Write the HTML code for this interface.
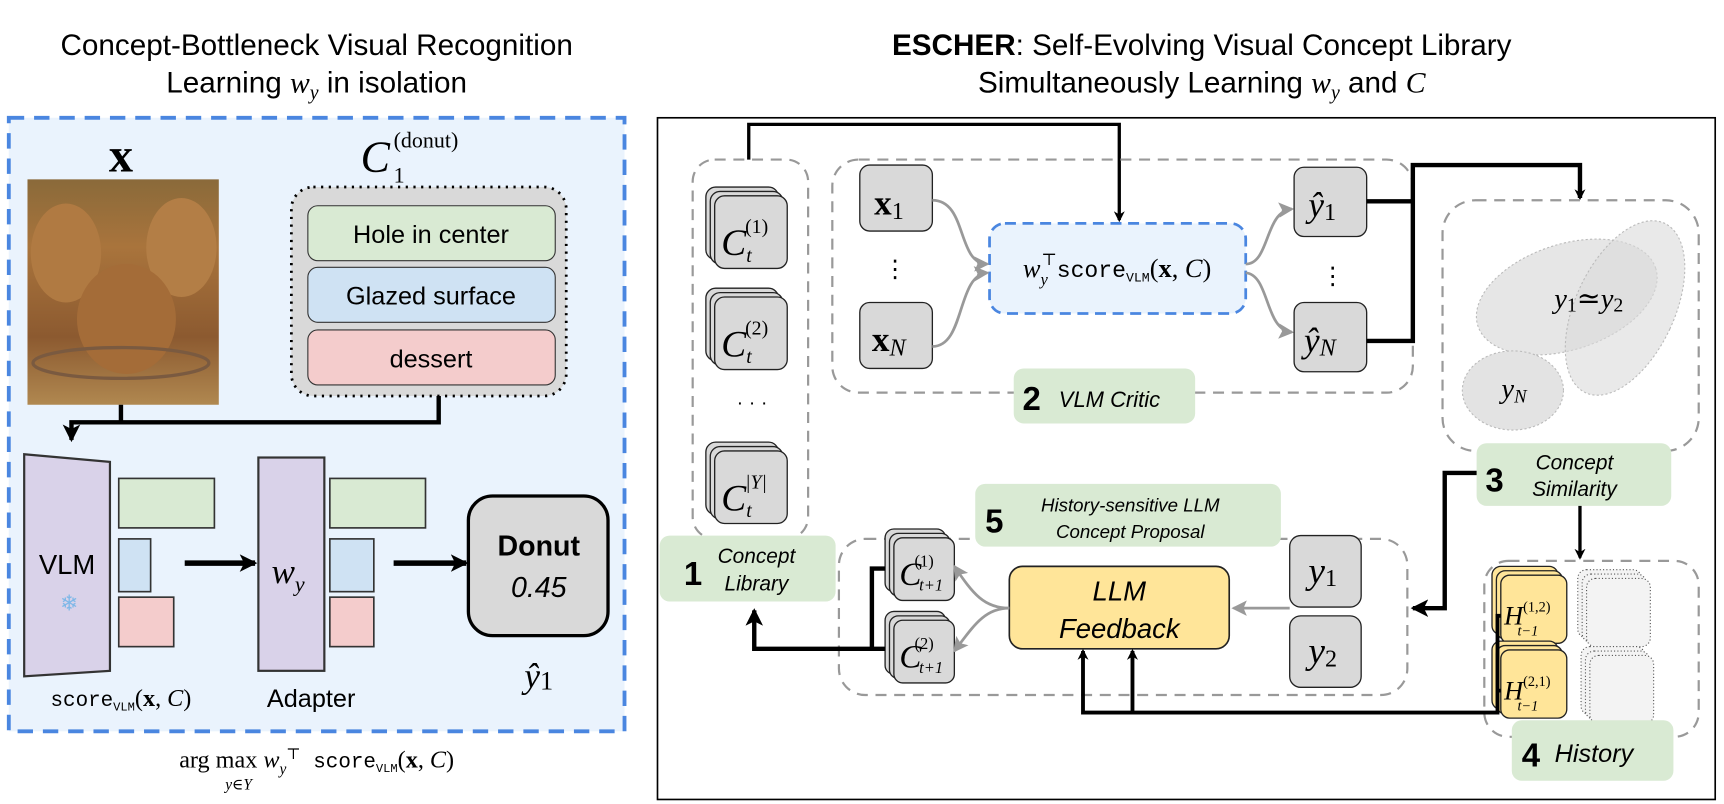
<!DOCTYPE html>
<html><head><meta charset="utf-8"><style>
html,body{margin:0;padding:0;background:#fff;}
svg{display:block;}
text{font-family:"Liberation Sans","DejaVu Sans",sans-serif;}
.m{font-family:"Liberation Serif","DejaVu Serif",serif;font-style:italic;}
.r{font-family:"Liberation Serif","DejaVu Serif",serif;}
.tt{font-family:"Liberation Mono","DejaVu Sans Mono",monospace;}
</style></head><body>
<svg width="1724" height="804" viewBox="0 0 1568 731" xmlns="http://www.w3.org/2000/svg">
<defs>
<marker id="ab" markerWidth="10" markerHeight="10" refX="8" refY="5" orient="auto" markerUnits="userSpaceOnUse" viewBox="0 0 10 10"><path d="M0,0 L10,5 L0,10 L3,5z" fill="#000"/></marker>
<marker id="abs" markerWidth="16" markerHeight="16" refX="14" refY="8" orient="auto" markerUnits="userSpaceOnUse" viewBox="0 0 16 16"><path d="M0,0 L16,8 L0,16 L4,8z" fill="#000"/></marker>
<marker id="ag" markerWidth="14" markerHeight="14" refX="12" refY="7" orient="auto" markerUnits="userSpaceOnUse" viewBox="0 0 14 14"><path d="M0,0 L14,7 L0,14 L3,7z" fill="#999"/></marker>
<linearGradient id="ph" x1="0" y1="0" x2="0" y2="1"><stop offset="0" stop-color="#8a6a3a"/><stop offset="0.3" stop-color="#a9743c"/><stop offset="0.7" stop-color="#8c5a30"/><stop offset="1" stop-color="#b08850"/></linearGradient>
</defs>

<!-- titles -->
<text x="288" y="50" font-size="27" text-anchor="middle">Concept-Bottleneck Visual Recognition</text>
<text x="288" y="84" font-size="27" text-anchor="middle">Learning <tspan class="m">w</tspan><tspan class="m" font-size="18" dy="6">y</tspan><tspan dy="-6"> in isolation</tspan></text>
<text x="1093" y="50" font-size="27" text-anchor="middle"><tspan font-weight="bold">ESCHER</tspan>: Self-Evolving Visual Concept Library</text>
<text x="1093" y="84" font-size="27" text-anchor="middle">Simultaneously Learning <tspan class="m">w</tspan><tspan class="m" font-size="18" dy="6">y</tspan><tspan dy="-6"> and </tspan><tspan class="m">C</tspan></text>

<!-- LEFT PANEL -->
<rect x="8" y="107" width="560" height="558" fill="#eaf3fd" stroke="#4a86e0" stroke-width="3.5" stroke-dasharray="14,9"/>
<text x="110" y="156" font-size="44" font-weight="bold" class="r" text-anchor="middle">x</text>
<rect x="25" y="163" width="174" height="205" fill="url(#ph)"/>
<ellipse cx="60" cy="230" rx="32" ry="45" fill="#b07a42"/>
<ellipse cx="165" cy="225" rx="32" ry="45" fill="#b37e46"/>
<ellipse cx="115" cy="290" rx="45" ry="50" fill="#a46c38"/>
<ellipse cx="110" cy="330" rx="80" ry="14" fill="none" stroke="#7a5a40" stroke-width="3"/>
<text x="328" y="156" font-size="40" class="m">C</text>
<text x="358" y="166" font-size="20" class="r">1</text>
<text x="358" y="134" font-size="20" class="r">(donut)</text>
<rect x="265" y="170" width="250" height="190" rx="20" fill="#d9d9d9" stroke="#000" stroke-width="2.5" stroke-dasharray="2,5"/>
<rect x="280" y="187" width="225" height="50" rx="9" fill="#d9ead3" stroke="#333" stroke-width="1"/>
<rect x="280" y="243" width="225" height="50" rx="9" fill="#cfe2f3" stroke="#333" stroke-width="1"/>
<rect x="280" y="300" width="225" height="50" rx="9" fill="#f4cccc" stroke="#333" stroke-width="1"/>
<text x="392" y="221" font-size="23" text-anchor="middle">Hole in center</text>
<text x="392" y="277" font-size="23" text-anchor="middle">Glazed surface</text>
<text x="392" y="334" font-size="23" text-anchor="middle">dessert</text>
<path d="M110,368 V384 M399,360 V384 H65 V400" fill="none" stroke="#000" stroke-width="4" marker-end="url(#abs)"/>
<polygon points="22,413 100,420 100,610 22,615" fill="#d9d2e9" stroke="#333" stroke-width="2"/>
<text x="61" y="522" font-size="25" text-anchor="middle">VLM</text>
<text x="63" y="555" font-size="20" text-anchor="middle" fill="#7fb8e8">❄</text>
<rect x="108" y="435" width="87" height="45" fill="#d9ead3" stroke="#333" stroke-width="1.5"/>
<rect x="108" y="490" width="29" height="48" fill="#cfe2f3" stroke="#333" stroke-width="1.5"/>
<rect x="108" y="543" width="50" height="45" fill="#f4cccc" stroke="#333" stroke-width="1.5"/>
<line x1="168" y1="512" x2="232" y2="512" stroke="#000" stroke-width="5" marker-end="url(#abs)"/>
<rect x="235" y="416" width="60" height="194" fill="#d9d2e9" stroke="#333" stroke-width="2"/>
<text x="262" y="530" font-size="32" class="m" text-anchor="middle">w<tspan font-size="20" dy="8">y</tspan></text>
<rect x="300" y="435" width="87" height="45" fill="#d9ead3" stroke="#333" stroke-width="1.5"/>
<rect x="300" y="490" width="40" height="48" fill="#cfe2f3" stroke="#333" stroke-width="1.5"/>
<rect x="300" y="543" width="40" height="45" fill="#f4cccc" stroke="#333" stroke-width="1.5"/>
<line x1="358" y1="512" x2="424" y2="512" stroke="#000" stroke-width="5" marker-end="url(#abs)"/>
<rect x="426" y="451" width="127" height="127" rx="22" fill="#d9d9d9" stroke="#000" stroke-width="3"/>
<text x="490" y="505" font-size="26" font-weight="bold" text-anchor="middle">Donut</text>
<text x="490" y="543" font-size="26" font-style="italic" text-anchor="middle">0.45</text>
<text x="490" y="625" font-size="32" class="m" text-anchor="middle">ŷ<tspan class="r" font-style="normal" font-size="24" dy="2">1</tspan></text>
<text x="110" y="642" font-size="19" text-anchor="middle"><tspan class="tt">score</tspan><tspan class="tt" font-size="11" dy="4">VLM</tspan><tspan class="r" font-size="22" dy="-4">(</tspan><tspan class="r" font-weight="bold" font-size="22">x</tspan><tspan class="r" font-size="22">, </tspan><tspan class="m" font-size="22">C</tspan><tspan class="r" font-size="22">)</tspan></text>
<text x="283" y="643" font-size="23" text-anchor="middle">Adapter</text>
<text x="288" y="698" font-size="22" text-anchor="middle"><tspan class="r">arg max </tspan><tspan class="m">w</tspan><tspan class="m" font-size="14" dy="6">y</tspan><tspan class="r" font-size="14" dy="-14">⊤</tspan><tspan class="tt" font-size="19" dy="8"> score</tspan><tspan class="tt" font-size="11" dy="4">VLM</tspan><tspan class="r" dy="-4">(</tspan><tspan class="r" font-weight="bold">x</tspan><tspan class="r">, </tspan><tspan class="m">C</tspan><tspan class="r">)</tspan></text>
<text x="217" y="718" font-size="14" class="m" text-anchor="middle">y∈Y</text>

<!-- RIGHT PANEL -->
<rect x="598" y="107" width="962" height="620" fill="#fff" stroke="#000" stroke-width="1.5"/>

<!-- section 1 -->
<rect x="630" y="145" width="105" height="345" rx="20" fill="none" stroke="#999" stroke-width="2" stroke-dasharray="10,7"/>
<g stroke="#222" stroke-width="1.2" fill="#d9d9d9">
<rect x="642" y="170" width="66" height="66" rx="9"/><rect x="646" y="174" width="66" height="66" rx="9"/><rect x="650" y="178" width="66" height="66" rx="9"/>
<rect x="642" y="262" width="66" height="66" rx="9"/><rect x="646" y="266" width="66" height="66" rx="9"/><rect x="650" y="270" width="66" height="66" rx="9"/>
<rect x="642" y="402" width="66" height="66" rx="9"/><rect x="646" y="406" width="66" height="66" rx="9"/><rect x="650" y="410" width="66" height="66" rx="9"/>
</g>
<text x="656" y="232" font-size="34" class="m">C<tspan font-size="18" dy="6">t</tspan><tspan class="r" font-style="normal" font-size="18" dx="-6" dy="-26">(1)</tspan></text>
<text x="656" y="324" font-size="34" class="m">C<tspan font-size="18" dy="6">t</tspan><tspan class="r" font-style="normal" font-size="18" dx="-6" dy="-26">(2)</tspan></text>
<text x="656" y="464" font-size="34" class="m">C<tspan font-size="18" dy="6">t</tspan><tspan font-size="18" dx="-6" dy="-26">|Y|</tspan></text>
<text x="684" y="372" font-size="18" text-anchor="middle">· · ·</text>
<rect x="600" y="487" width="160" height="60" rx="9" fill="#d9ead3"/>
<text x="622" y="532" font-size="30" font-weight="bold">1</text>
<text x="688" y="512" font-size="19" font-style="italic" text-anchor="middle">Concept</text>
<text x="688" y="537" font-size="19" font-style="italic" text-anchor="middle">Library</text>

<path d="M681,145 V113 H1018 V200" fill="none" stroke="#000" stroke-width="3" marker-end="url(#ab)"/>

<!-- section 2 -->
<rect x="757" y="145" width="528" height="212" rx="24" fill="none" stroke="#999" stroke-width="2" stroke-dasharray="10,7"/>
<rect x="782" y="150" width="66" height="60" rx="9" fill="#d9d9d9" stroke="#222" stroke-width="1.2"/>
<rect x="782" y="275" width="66" height="60" rx="9" fill="#d9d9d9" stroke="#222" stroke-width="1.2"/>
<text x="795" y="195" font-size="32" class="r" font-weight="bold">x<tspan font-weight="normal" font-size="22" dy="4">1</tspan></text>
<text x="793" y="319" font-size="32" class="r" font-weight="bold">x<tspan class="m" font-weight="normal" font-size="22" dy="4">N</tspan></text>
<text x="814" y="252" font-size="22" text-anchor="middle">⋮</text>
<rect x="900" y="203" width="233" height="82" rx="14" fill="#eaf3fd" stroke="#4a86e0" stroke-width="2.5" stroke-dasharray="10,6"/>
<text x="1016" y="252" font-size="24" text-anchor="middle"><tspan class="m">w</tspan><tspan class="m" font-size="15" dy="7">y</tspan><tspan class="r" font-size="15" dy="-18" dx="-6">⊤</tspan><tspan class="tt" font-size="21" dy="11">score</tspan><tspan class="tt" font-size="12" dy="4">VLM</tspan><tspan class="r" dy="-4">(</tspan><tspan class="r" font-weight="bold">x</tspan><tspan class="r">, </tspan><tspan class="m">C</tspan><tspan class="r">)</tspan></text>
<g fill="none" stroke="#999" stroke-width="2.5">
<path d="M848,182 C880,182 870,240 898,240" marker-end="url(#ag)"/>
<path d="M848,315 C878,315 870,250 898,248" marker-end="url(#ag)"/>
<path d="M1133,240 C1155,240 1150,192 1175,190" marker-end="url(#ag)"/>
<path d="M1133,248 C1155,250 1150,300 1175,302" marker-end="url(#ag)"/>
</g>
<rect x="1177" y="152" width="66" height="63" rx="9" fill="#d9d9d9" stroke="#222" stroke-width="1.2"/>
<rect x="1177" y="275" width="66" height="63" rx="9" fill="#d9d9d9" stroke="#222" stroke-width="1.2"/>
<text x="1190" y="197" font-size="32" class="m">ŷ<tspan class="r" font-style="normal" font-size="22" dy="3">1</tspan></text>
<text x="1186" y="320" font-size="32" class="m">ŷ<tspan font-size="22" dy="3">N</tspan></text>
<text x="1212" y="258" font-size="22" text-anchor="middle">⋮</text>
<rect x="922" y="335" width="165" height="50" rx="9" fill="#d9ead3"/>
<text x="930" y="373" font-size="30" font-weight="bold">2</text>
<text x="963" y="370" font-size="20" font-style="italic">VLM Critic</text>

<path d="M1243,183 H1285 M1243,310 H1285 V150 H1437 V180" fill="none" stroke="#000" stroke-width="4" marker-end="url(#ab)"/>

<!-- section 3 -->
<rect x="1312" y="182" width="233" height="228" rx="30" fill="none" stroke="#999" stroke-width="2" stroke-dasharray="10,7"/>
<ellipse cx="1425" cy="270" rx="85" ry="48" transform="rotate(-18 1425 270)" fill="#e3e3e3" fill-opacity="0.9" stroke="#bbb" stroke-dasharray="2,2"/>
<ellipse cx="1478" cy="280" rx="45" ry="85" transform="rotate(25 1478 280)" fill="#dadada" fill-opacity="0.6" stroke="#bbb" stroke-dasharray="2,2"/>
<ellipse cx="1376" cy="355" rx="46" ry="36" fill="#e3e3e3" stroke="#bbb" stroke-dasharray="2,2"/>
<text x="1445" y="280" font-size="26" class="m" text-anchor="middle">y<tspan class="r" font-style="normal" font-size="18" dy="3">1</tspan><tspan dy="-3">≃y</tspan><tspan class="r" font-style="normal" font-size="18" dy="3">2</tspan></text>
<text x="1377" y="362" font-size="26" class="m" text-anchor="middle">y<tspan font-size="17" dy="4">N</tspan></text>
<rect x="1343" y="403" width="177" height="57" rx="9" fill="#d9ead3"/>
<text x="1351" y="447" font-size="30" font-weight="bold">3</text>
<text x="1432" y="427" font-size="19" font-style="italic" text-anchor="middle">Concept</text>
<text x="1432" y="451" font-size="19" font-style="italic" text-anchor="middle">Similarity</text>
<path d="M1343,430 H1314 V553 H1285" fill="none" stroke="#000" stroke-width="4" marker-end="url(#abs)"/>
<path d="M1437,460 V507" fill="none" stroke="#000" stroke-width="3" marker-end="url(#ab)"/>

<!-- section 4 -->
<rect x="1350" y="510" width="195" height="160" rx="22" fill="none" stroke="#999" stroke-width="2" stroke-dasharray="10,7"/>
<g stroke="#222" stroke-width="1.2" fill="#ffe599">
<rect x="1357" y="515" width="60" height="62" rx="8"/><rect x="1361" y="519" width="60" height="62" rx="8"/><rect x="1365" y="523" width="60" height="62" rx="8"/>
<rect x="1357" y="583" width="60" height="62" rx="8"/><rect x="1361" y="587" width="60" height="62" rx="8"/><rect x="1365" y="591" width="60" height="62" rx="8"/>
</g>
<g stroke="#555" stroke-width="1" stroke-dasharray="1,2" fill="#f3f3f3">
<rect x="1435" y="518" width="58" height="62" rx="8"/><rect x="1439" y="522" width="58" height="62" rx="8"/><rect x="1443" y="526" width="58" height="62" rx="8"/>
<rect x="1438" y="588" width="58" height="62" rx="8"/><rect x="1442" y="592" width="58" height="62" rx="8"/><rect x="1446" y="596" width="58" height="62" rx="8"/>
</g>
<text x="1368" y="568" font-size="24" class="m">H<tspan class="r" font-style="normal" font-size="13" dy="-12">(1,2)</tspan><tspan font-size="13" dx="-30" dy="22">t−1</tspan></text>
<text x="1368" y="636" font-size="24" class="m">H<tspan class="r" font-style="normal" font-size="13" dy="-12">(2,1)</tspan><tspan font-size="13" dx="-30" dy="22">t−1</tspan></text>
<rect x="1375" y="655" width="147" height="55" rx="9" fill="#d9ead3"/>
<text x="1384" y="697" font-size="30" font-weight="bold">4</text>
<text x="1414" y="693" font-size="23" font-style="italic">History</text>

<!-- section 5 -->
<rect x="763" y="490" width="517" height="142" rx="24" fill="none" stroke="#999" stroke-width="2" stroke-dasharray="10,7"/>
<rect x="887" y="440" width="278" height="57" rx="9" fill="#d9ead3"/>
<text x="896" y="484" font-size="30" font-weight="bold">5</text>
<text x="1028" y="465" font-size="17" font-style="italic" text-anchor="middle">History-sensitive LLM</text>
<text x="1028" y="489" font-size="17" font-style="italic" text-anchor="middle">Concept Proposal</text>
<g stroke="#222" stroke-width="1.2" fill="#d9d9d9">
<rect x="805" y="481" width="55" height="57" rx="8"/><rect x="809" y="485" width="55" height="57" rx="8"/><rect x="813" y="489" width="55" height="57" rx="8"/>
<rect x="805" y="556" width="55" height="57" rx="8"/><rect x="809" y="560" width="55" height="57" rx="8"/><rect x="813" y="564" width="55" height="57" rx="8"/>
</g>
<text x="818" y="532" font-size="30" class="m">C<tspan font-size="15" dy="5" dx="-2">t+1</tspan><tspan class="r" font-style="normal" font-size="15" dx="-26" dy="-22">(1)</tspan></text>
<text x="818" y="607" font-size="30" class="m">C<tspan font-size="15" dy="5" dx="-2">t+1</tspan><tspan class="r" font-style="normal" font-size="15" dx="-26" dy="-22">(2)</tspan></text>
<rect x="918" y="515" width="200" height="75" rx="12" fill="#ffe599" stroke="#222" stroke-width="1.5"/>
<text x="1018" y="546" font-size="25" font-style="italic" text-anchor="middle">LLM</text>
<text x="1018" y="580" font-size="25" font-style="italic" text-anchor="middle">Feedback</text>
<rect x="1173" y="487" width="65" height="65" rx="10" fill="#d9d9d9" stroke="#222" stroke-width="1.2"/>
<rect x="1173" y="560" width="65" height="65" rx="10" fill="#d9d9d9" stroke="#222" stroke-width="1.2"/>
<text x="1190" y="530" font-size="34" class="m">y<tspan class="r" font-style="normal" font-size="22" dy="3">1</tspan></text>
<text x="1190" y="603" font-size="34" class="m">y<tspan class="r" font-style="normal" font-size="22" dy="3">2</tspan></text>
<g fill="none" stroke="#999" stroke-width="2.5">
<path d="M1173,553 H1122" marker-end="url(#ag)"/>
<path d="M918,553 C895,553 885,540 868,515" marker-end="url(#ag)"/>
<path d="M918,553 C895,553 885,570 868,592" marker-end="url(#ag)"/>
</g>
<path d="M805,517 H793 V590 H805 M793,590 H686 V555" fill="none" stroke="#000" stroke-width="4" marker-end="url(#abs)"/>
<path d="M1365,560 H1362 V648 H985 V592 M1365,628 H1362 M1030,648 V592" fill="none" stroke="#000" stroke-width="3.5"/>
<path d="M985,600 V592" stroke="#000" stroke-width="3" marker-end="url(#ab)"/>
<path d="M1030,600 V592" stroke="#000" stroke-width="3" marker-end="url(#ab)"/>
</svg>
</body></html>
